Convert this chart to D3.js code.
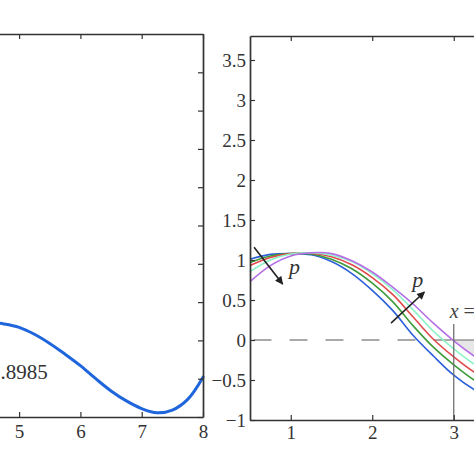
<!DOCTYPE html>
<html>
<head>
<meta charset="utf-8">
<script src="https://cdn.jsdelivr.net/npm/d3@7/dist/d3.min.js"></script>
<style>
  html, body { margin: 0; padding: 0; background: #fff; }
  svg { display: block; }
</style>
</head>
<body>
<svg id="chart" width="474" height="474"></svg>
<script>
// ─── Data ───────────────────────────────────────────────
// left panel (only its right part is visible)
const LEFT_X = [4.5, 4.75, 5, 5.25, 5.5, 5.75, 6, 6.25, 6.5, 6.75, 7, 7.25, 7.5, 7.75, 8];
const LEFT_Y = [0.24, 0.215, 0.17, 0.08, -0.04, -0.18, -0.33, -0.5, -0.66, -0.79, -0.89, -0.945, -0.91, -0.77, -0.48];
const LEFT_XTICKS = [5, 6, 7, 8];
const LEFT_YTICKS = [-1, -0.5, 0, 0.5, 1, 1.5, 2, 2.5, 3, 3.5];
const LEFT_NOTE = '.8985';   // the visible tail of the note, the rest lies left of the frame

// right panel: five curves, p increasing blue → purple
const P_X      = [0.5, 0.75, 1, 1.25, 1.5, 1.75, 2, 2.25, 2.5, 2.75, 3, 3.25, 3.5];
const P_BLUE   = [1.01, 1.07, 1.08, 1.065, 0.98, 0.83, 0.62, 0.37, 0.06, -0.2, -0.44, -0.62, -0.74];
const P_GREEN  = [0.97, 1.05, 1.08, 1.075, 1.01, 0.89, 0.71, 0.48, 0.18, -0.09, -0.31, -0.5, -0.63];
const P_RED    = [0.93, 1.03, 1.08, 1.085, 1.04, 0.94, 0.78, 0.57, 0.29, 0.01, -0.21, -0.4, -0.54];
const P_AQUA   = [0.855, 1.0, 1.075, 1.09, 1.06, 0.98, 0.83, 0.63, 0.38, 0.11, -0.11, -0.3, -0.45];
const P_PURPLE = [0.73, 0.93, 1.05, 1.09, 1.08, 0.99, 0.85, 0.66, 0.45, 0.21, -0.01, -0.2, -0.36];
const RIGHT_XTICKS = [1, 2, 3];
const RIGHT_YTICKS = [-1, -0.5, 0, 0.5, 1, 1.5, 2, 2.5, 3, 3.5];
const RIGHT_YLABELS = ['\u22121', '\u22120.5', '0', '0.5', '1', '1.5', '2', '2.5', '3', '3.5'];
const CUT_X = 3;
// arrows [x0, y0, x1, y1] in data units, label [x, y]
const ARROW_1 = [0.55, 1.16, 0.9, 0.7];
const ARROW_2 = [2.23, 0.21, 2.64, 0.6];
const LABEL_1 = [0.98, 0.82];
const LABEL_2 = [2.49, 0.66];

const COLORS = ['#2b5fd9', '#3f9b3a', '#e04a4c', '#8ef3c8', '#b46ee6'];
const SERIES = [P_BLUE, P_GREEN, P_RED, P_AQUA, P_PURPLE];

const FONT = '"Liberation Serif", "DejaVu Serif", serif';
const AXIS_COLOR = '#333';

const svg = d3.select('#chart').attr('font-family', FONT);
svg.append('rect').attr('width', 474).attr('height', 474).attr('fill', '#fff');

function styleAxis(g) {
  g.attr('font-family', FONT).attr('font-size', 19);
  g.select('.domain').attr('stroke', AXIS_COLOR).attr('stroke-width', 1.7);
  g.selectAll('.tick line').attr('stroke', AXIS_COLOR).attr('stroke-width', 1.2);
  g.selectAll('.tick text').attr('fill', '#333');
}

// ─── Left panel ───────────────────────────────────────
const L = { left: 203 - 8 * 61.3, right: 203, top: 34, bottom: 417 };
const xL = d3.scaleLinear().domain([0, 8]).range([L.left, L.right]);
const yL = d3.scaleLinear().domain([-1, 4]).range([L.bottom, L.top]);

const gL = svg.append('g');

gL.append('path')
  .datum(LEFT_X.map((x, i) => [x, LEFT_Y[i]]))
  .attr('fill', 'none')
  .attr('stroke', '#1f66dc')
  .attr('stroke-width', 3)
  .attr('stroke-linecap', 'round')
  .attr('d', d3.line().x(d => xL(d[0])).y(d => yL(d[1])).curve(d3.curveCatmullRom));

gL.append('text')
  .attr('x', 0.5).attr('y', yL(-0.51))
  .attr('font-family', FONT)
  .attr('font-size', 21)
  .attr('fill', '#333')
  .text(LEFT_NOTE);

gL.append('g').attr('transform', `translate(0,${L.bottom})`)
  .call(d3.axisBottom(xL).tickValues(LEFT_XTICKS).tickSize(-5).tickSizeOuter(0).tickPadding(8)
    .tickFormat(d3.format('d')))
  .call(styleAxis);
gL.append('g').attr('transform', `translate(0,${L.top})`)
  .call(d3.axisTop(xL).tickValues(LEFT_XTICKS).tickSize(-5).tickSizeOuter(0).tickFormat(''))
  .call(styleAxis);
gL.append('g').attr('transform', `translate(${L.right},0)`)
  .call(d3.axisRight(yL).tickValues(LEFT_YTICKS).tickSize(-5).tickSizeOuter(0).tickFormat(''))
  .call(styleAxis);

// ─── Right panel ──────────────────────────────────────
const R = { left: 250, right: 250 + 3 * 81.5, top: 36, bottom: 420 };
const xR = d3.scaleLinear().domain([0.5, 3.5]).range([R.left, R.right]);
const yR = d3.scaleLinear().domain([-1, 3.8]).range([R.bottom, R.top]);

const gR = svg.append('g');
svg.append('defs').append('marker')
  .attr('id', 'head')
  .attr('viewBox', '0 0 10 10')
  .attr('refX', 9).attr('refY', 5)
  .attr('markerWidth', 12).attr('markerHeight', 8)
  .attr('markerUnits', 'userSpaceOnUse')
  .attr('orient', 'auto')
  .append('path').attr('d', 'M0,0 L10,5 L0,10 z').attr('fill', '#222');

const lineR = d3.line().x(d => xR(d[0])).y(d => yR(d[1])).curve(d3.curveCatmullRom);

// shaded region under zero, right of the cut
const shade = P_X.map((x, i) => [x, P_PURPLE[i]]).filter(d => d[0] >= CUT_X);
shade[0] = [CUT_X, 0];
gR.append('path')
  .datum(shade)
  .attr('fill', '#e6e6e6')
  .attr('d', d3.area().x(d => xR(d[0])).y0(yR(0)).y1(d => yR(d[1])).curve(d3.curveCatmullRom));

// zero line: dashed left of the cut, solid edge on the shaded part
gR.append('line')
  .attr('x1', xR(0.5)).attr('x2', xR(CUT_X))
  .attr('y1', yR(0)).attr('y2', yR(0))
  .attr('stroke', '#555').attr('stroke-width', 1.2)
  .attr('stroke-dasharray', '18,18').attr('stroke-dashoffset', 32.5);
gR.append('line')
  .attr('x1', xR(CUT_X)).attr('x2', xR(3.5))
  .attr('y1', yR(0)).attr('y2', yR(0))
  .attr('stroke', '#666').attr('stroke-width', 1.2);

SERIES.forEach((ys, k) => {
  gR.append('path')
    .datum(P_X.map((x, i) => [x, ys[i]]))
    .attr('fill', 'none')
    .attr('stroke', COLORS[k])
    .attr('stroke-width', 1.6)
    .attr('d', lineR);
});

gR.append('line')
  .attr('x1', xR(CUT_X)).attr('x2', xR(CUT_X))
  .attr('y1', yR(0.2)).attr('y2', yR(-1))
  .attr('stroke', '#666').attr('stroke-width', 1.2);

const cut = gR.append('text')
  .attr('x', xR(2.95)).attr('y', yR(0.27))
  .attr('font-family', FONT)
  .attr('font-size', 20).attr('fill', '#444');
cut.append('tspan').attr('font-style', 'italic').text('x');
cut.append('tspan').text(' =');

[ARROW_1, ARROW_2].forEach(a => {
  gR.append('line')
    .attr('x1', xR(a[0])).attr('y1', yR(a[1]))
    .attr('x2', xR(a[2])).attr('y2', yR(a[3]))
    .attr('stroke', '#222').attr('stroke-width', 1.6)
    .attr('marker-end', 'url(#head)');
});
[LABEL_1, LABEL_2].forEach(p => {
  gR.append('text')
    .attr('x', xR(p[0])).attr('y', yR(p[1]))
    .attr('font-family', FONT)
    .attr('font-size', 22).attr('font-style', 'italic').attr('fill', '#333')
    .text('p');
});

gR.append('g').attr('transform', `translate(0,${R.bottom})`)
  .call(d3.axisBottom(xR).tickValues(RIGHT_XTICKS).tickSize(-5).tickSizeOuter(0).tickPadding(6)
    .tickFormat(d3.format('d')))
  .call(styleAxis);
gR.append('g').attr('transform', `translate(0,${R.top})`)
  .call(d3.axisTop(xR).tickValues(RIGHT_XTICKS).tickSize(-5).tickSizeOuter(0).tickFormat(''))
  .call(styleAxis);
gR.append('g').attr('transform', `translate(${R.left},0)`)
  .call(d3.axisLeft(yR).tickValues(RIGHT_YTICKS).tickSize(-5).tickSizeOuter(0).tickPadding(4)
    .tickFormat((d, i) => RIGHT_YLABELS[i]))
  .call(styleAxis);
</script>
</body>
</html>
